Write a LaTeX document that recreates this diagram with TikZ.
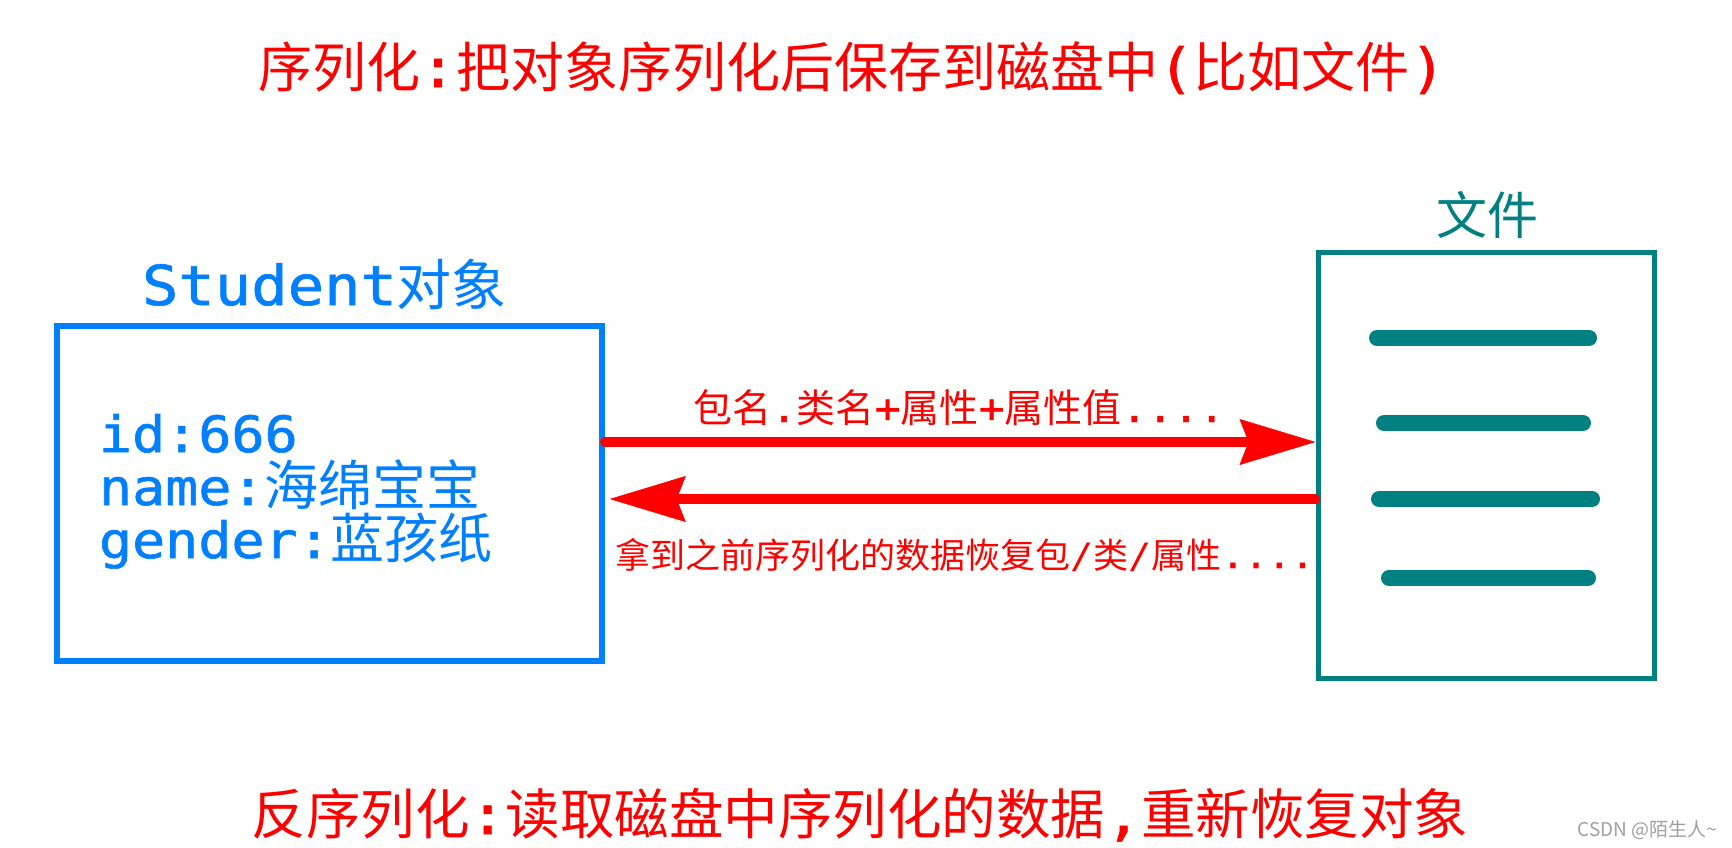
\documentclass[tikz,border=0pt]{standalone}
\usepackage{fontspec}
\usetikzlibrary{arrows.meta,calc,backgrounds}
\newfontfamily\cjk{Noto Sans CJK SC}
\newfontfamily\mono[FakeStretch=1.1]{DejaVu Sans Mono}
\newfontfamily\monob[FakeStretch=1.1,FakeBold=1.2]{DejaVu Sans Mono}
\newcommand\setfs[1]{\fontsize{#1}{#1}\selectfont}
\definecolor{myred}{RGB}{255,0,0}
\definecolor{myblue}{RGB}{0,128,255}
\definecolor{myteal}{RGB}{0,128,128}
\definecolor{wmgray}{RGB}{160,160,160}
\begin{document}
\begin{tikzpicture}[x=1pt,y=-1pt,
  txt/.style={inner sep=0pt, outer sep=0pt},
  objbox/.style={draw=myblue, line width=5.5pt, minimum width=545pt, minimum height=335pt, inner sep=0pt},
  filebox/.style={draw=myteal, line width=5pt, minimum width=336pt, minimum height=426pt, inner sep=0pt},
  shadowA/.style={draw=black, opacity=0.07, line width=12pt},
  shadowB/.style={draw=black, opacity=0.12, line width=7pt},
  fileline/.style={draw=myteal, line width=16pt, line cap=round},
  arr/.style={draw=myred, line width=9.5pt, line cap=round, -{Stealth[length=76pt,width=46pt,inset=9pt,line width=0.5pt]}},
  arrshadow/.style={draw=black, opacity=0.15, line width=10pt, line cap=round, -{Stealth[length=76pt,width=48pt,inset=9pt,line width=0.5pt]}},
]
\useasboundingbox[fill=white] (0,0) rectangle (1732,847);

% titles
\node[txt, anchor=base, text=myred] (title) at (852,87)
  {\setfs{54pt}\cjk 序列化\monob :\cjk 把对象序列化后保存到磁盘中\monob (\cjk 比如文件\monob )};
\node[txt, anchor=base, text=myred] (subtitle) at (860,834)
  {\setfs{54.5pt}\cjk 反序列化\monob :\cjk 读取磁盘中序列化的数据\monob ,\cjk 重新恢复对象};

% object box
\node[objbox] (obj) at (329.5,493.5) {};
\node[txt, anchor=base west, text=myblue] (objlabel) at (142,305)
  {\setfs{55pt}\monob Student\cjk 对象};
\node[txt, anchor=base west, text=myblue] (idline) at (99,452)
  {\setfs{50pt}\monob id:666};
\node[txt, anchor=base west, text=myblue] (nameline) at (99,505)
  {\setfs{50pt}\monob name:{\setfs{54pt}\cjk 海绵宝宝}};
\node[txt, anchor=base west, text=myblue] (genderline) at (99,558)
  {\setfs{50pt}\monob gender:{\setfs{54pt}\cjk 蓝孩纸}};

% file box
\node[filebox] (file) at (1486,465) {};
\node[txt, anchor=base, text=myteal] (filelabel) at (1487,234)
  {\setfs{51pt}\cjk 文件};
\draw[fileline] (1377,338) -- (1589,338);
\draw[fileline] (1384,423) -- (1583,423);
\draw[fileline] (1379,499) -- (1592,499);
\draw[fileline] (1389,578) -- (1588,578);

% arrows
\coordinate (a1) at ([yshift=51.5pt]obj.east);
\coordinate (b1) at (a1 -| file.west);
\coordinate (a2) at ([yshift=-34pt]file.west);
\coordinate (b2) at ([xshift=5pt]a2 -| obj.east);
\draw[arr] (a1) -- (b1);
\draw[arr] (a2) -- (b2);

\node[txt, anchor=base west, text=myred] (lab1) at (693,422)
  {\setfs{39pt}\cjk 包名\monob .\cjk 类名\monob +\cjk 属性\monob +\cjk 属性值\monob ....};
\node[txt, anchor=base west, text=myred] (lab2) at (615,568)
  {\setfs{35pt}\cjk 拿到之前序列化的数据恢复包\mono /\cjk 类\mono /\cjk 属性\monob ....};

% watermark
\node[txt, anchor=base east, text=wmgray] (wm) at (1717,836)
  {\setfs{19pt}\cjk CSDN @陌生人\textasciitilde};

% shadows
\begin{pgfonlayer}{background}
  \draw[shadowA] ([shift={(3,4)}]obj.north west) rectangle ([shift={(3,4)}]obj.south east);
  \draw[shadowB] ([shift={(3,3)}]obj.north west) rectangle ([shift={(3,3)}]obj.south east);
  \draw[shadowA] ([shift={(3,4)}]file.north west) rectangle ([shift={(3,4)}]file.south east);
  \draw[shadowB] ([shift={(3,3)}]file.north west) rectangle ([shift={(3,3)}]file.south east);
  \draw[arrshadow] ([shift={(2,3)}]a1) -- ([shift={(2,3)}]b1);
  \draw[arrshadow] ([shift={(2,3)}]a2) -- ([shift={(2,3)}]b2);
\end{pgfonlayer}
\end{tikzpicture}
\end{document}
